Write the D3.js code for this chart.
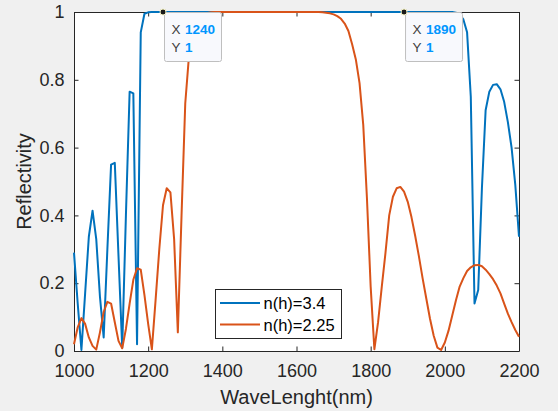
<!DOCTYPE html>
<html>
<head>
<meta charset="utf-8">
<script src="https://cdn.jsdelivr.net/npm/d3@7"></script>
<style>
  body { margin: 0; background: #f0f0f0; }
  text { font-family: "Liberation Sans", Arial, sans-serif; }
</style>
</head>
<body>
<div id="vis-container"></div>
<script>
// wavelength samples (nm)
const wavelength = [
  1000, 1010, 1020, 1030, 1040, 1050, 1060, 1070, 1080, 1090,
  1100, 1110, 1120, 1130, 1140, 1150, 1160, 1170, 1180, 1190,
  1200, 1210, 1220, 1230, 1240, 1250, 1260, 1270, 1280, 1290,
  1300, 1310, 1320, 1330, 1340, 1350, 1360, 1370, 1380, 1390,
  1400, 1410, 1420, 1430, 1440, 1450, 1460, 1470, 1480, 1490,
  1500, 1510, 1520, 1530, 1540, 1550, 1560, 1570, 1580, 1590,
  1600, 1610, 1620, 1630, 1640, 1650, 1660, 1670, 1680, 1690,
  1700, 1710, 1720, 1730, 1740, 1750, 1760, 1770, 1780, 1790,
  1800, 1810, 1820, 1830, 1840, 1850, 1860, 1870, 1880, 1890,
  1900, 1910, 1920, 1930, 1940, 1950, 1960, 1970, 1980, 1990,
  2000, 2010, 2020, 2030, 2040, 2050, 2060, 2070, 2080, 2090,
  2100, 2110, 2120, 2130, 2140, 2150, 2160, 2170, 2180, 2190,
  2200
];

// n(h)=3.4
const reflect34 = [
  0.29, 0.14, 0.003, 0.17, 0.337, 0.414, 0.33, 0.16, 0.04, 0.3,
  0.55, 0.555, 0.28, 0.01, 0.4, 0.765, 0.76, 0.02, 0.94, 0.995,
  0.999, 1, 1, 1, 1, 1, 1, 1, 1, 1,
  1, 1, 1, 1, 1, 1, 1, 1, 1, 1,
  1, 1, 1, 1, 1, 1, 1, 1, 1, 1,
  1, 1, 1, 1, 1, 1, 1, 1, 1, 1,
  1, 1, 1, 1, 1, 1, 1, 1, 1, 1,
  1, 1, 1, 1, 1, 1, 1, 1, 1, 1,
  1, 1, 1, 1, 1, 1, 1, 1, 1, 1,
  1, 1, 1, 1, 1, 1, 1, 1, 1, 1,
  1, 1, 1, 0.998, 0.993, 0.978, 0.94, 0.75, 0.14, 0.18,
  0.48, 0.71, 0.765, 0.785, 0.787, 0.772, 0.735, 0.675, 0.6, 0.49,
  0.337
];

// n(h)=2.25
const reflect225 = [
  0.02, 0.07, 0.097, 0.08, 0.04, 0.015, 0.004, 0.055, 0.115, 0.145,
  0.14, 0.085, 0.03, 0.008, 0.065, 0.14, 0.21, 0.244, 0.24, 0.165,
  0.08, 0.005, 0.15, 0.3, 0.43, 0.48, 0.468, 0.33, 0.055, 0.4,
  0.73, 0.87, 0.94, 0.97, 0.985, 0.993, 0.997, 0.999, 1, 1,
  1, 1, 1, 1, 1, 1, 1, 1, 1, 1,
  1, 1, 1, 1, 1, 1, 1, 1, 1, 1,
  1, 1, 1, 1, 1, 1, 1, 0.999, 0.998, 0.996,
  0.993, 0.988, 0.98, 0.966, 0.944, 0.905, 0.86, 0.79, 0.667, 0.45,
  0.19, 0.005, 0.085, 0.19, 0.29, 0.4, 0.455, 0.48, 0.484, 0.47,
  0.44, 0.395, 0.34, 0.28, 0.215, 0.155, 0.095, 0.045, 0.01, 0.003,
  0.025, 0.06, 0.105, 0.15, 0.19, 0.215, 0.236, 0.247, 0.253, 0.254,
  0.25, 0.24, 0.227, 0.212, 0.193, 0.17, 0.14, 0.11, 0.085, 0.062,
  0.042
];

const seriesNames = ["n(h)=3.4", "n(h)=2.25"];
const seriesColors = ["#0072BD", "#D95319"];
const xTicks = [1000, 1200, 1400, 1600, 1800, 2000, 2200];
const yTicks = [0, 0.2, 0.4, 0.6, 0.8, 1];
const tipX = [1240, 1890];
const tipY = [1, 1];

const width = 558;
const height = 411;
const margin = { left: 74, right: 39, top: 12, bottom: 60 };
const axisColor = "#262626";

const svg = d3.select("#vis-container")
  .append("svg")
  .attr("width", width)
  .attr("height", height)
  .style("display", "block")
  .style("background", "#f0f0f0");

const xScale = d3.scaleLinear()
  .domain([1000, 2200])
  .range([margin.left, width - margin.right]);

const yScale = d3.scaleLinear()
  .domain([0, 1])
  .range([height - margin.bottom, margin.top]);

// white axes background
svg.append("rect")
  .attr("x", xScale(1000))
  .attr("y", yScale(1))
  .attr("width", xScale(2200) - xScale(1000))
  .attr("height", yScale(0) - yScale(1))
  .attr("fill", "white");

// axes (ticks pointing inward, box on)
function styleAxis(g) {
  g.select(".domain").attr("stroke", axisColor).attr("stroke-width", 1);
  g.selectAll(".tick line").attr("stroke", axisColor);
  g.selectAll(".tick text").attr("fill", axisColor).attr("font-size", "18px");
}

svg.append("g")
  .attr("transform", `translate(0,${yScale(0)})`)
  .call(d3.axisBottom(xScale).tickValues(xTicks).tickSize(-4.5).tickSizeOuter(0).tickPadding(13)
    .tickFormat(d3.format("d")))
  .call(styleAxis);

svg.append("g")
  .attr("transform", `translate(0,${yScale(1)})`)
  .call(d3.axisTop(xScale).tickValues(xTicks).tickSize(-4.5).tickSizeOuter(0).tickFormat(""))
  .call(styleAxis);

svg.append("g")
  .attr("transform", `translate(${xScale(1000)},0)`)
  .call(d3.axisLeft(yScale).tickValues(yTicks).tickSize(-4.5).tickSizeOuter(0).tickPadding(9.5)
    .tickFormat(d => d === 0 || d === 1 ? d3.format("d")(d) : d3.format(".1f")(d)))
  .call(styleAxis);

svg.append("g")
  .attr("transform", `translate(${xScale(2200)},0)`)
  .call(d3.axisRight(yScale).tickValues(yTicks).tickSize(-4.5).tickSizeOuter(0).tickFormat(""))
  .call(styleAxis);

// axis labels
svg.append("text")
  .attr("x", (xScale(1000) + xScale(2200)) / 2)
  .attr("y", 404)
  .attr("text-anchor", "middle")
  .attr("font-size", "20px")
  .attr("fill", axisColor)
  .text("WaveLenght(nm)");

svg.append("text")
  .attr("transform", `translate(31,${(yScale(0) + yScale(1)) / 2}) rotate(-90)`)
  .attr("text-anchor", "middle")
  .attr("font-size", "20px")
  .attr("fill", axisColor)
  .text("Reflectivity");

// lines
const line = d3.line()
  .x((d, i) => xScale(wavelength[i]))
  .y(d => yScale(d));

[reflect34, reflect225].forEach((s, k) => {
  svg.append("path")
    .datum(s)
    .attr("fill", "none")
    .attr("stroke", seriesColors[k])
    .attr("stroke-width", 2)
    .attr("stroke-linejoin", "round")
    .attr("d", line);
});

// legend
const legend = svg.append("g").attr("transform", "translate(215.5,289.5)");
legend.append("rect")
  .attr("width", 126)
  .attr("height", 49)
  .attr("fill", "white")
  .attr("stroke", axisColor)
  .attr("stroke-width", 1);

seriesNames.forEach((name, k) => {
  const yy = 13.5 + k * 21.5;
  legend.append("line")
    .attr("x1", 4.5).attr("x2", 44.5)
    .attr("y1", yy).attr("y2", yy)
    .attr("stroke", seriesColors[k])
    .attr("stroke-width", 2);
  legend.append("text")
    .attr("x", 48)
    .attr("y", yy + 6)
    .attr("font-size", "16.5px")
    .attr("fill", "#000")
    .text(name);
});

// data tips
tipX.forEach((xv, k) => {
  const px = xScale(xv);
  const py = yScale(tipY[k]);
  const tip = svg.append("g");
  tip.append("rect")
    .attr("x", px + 1.5)
    .attr("y", py + 0.5)
    .attr("width", 57)
    .attr("height", 49)
    .attr("rx", 2)
    .attr("fill", "#f8f9fd")
    .attr("stroke", "#bfbfbf")
    .attr("stroke-width", 1);
  [["X", xv, 21.5], ["Y", tipY[k], 40]].forEach(([lab, val, dy]) => {
    tip.append("text")
      .attr("x", px + 8.5)
      .attr("y", py + dy)
      .attr("font-size", "13.5px")
      .attr("fill", "#404040")
      .text(lab);
    tip.append("text")
      .attr("x", px + 22)
      .attr("y", py + dy)
      .attr("font-size", "13.5px")
      .attr("font-weight", "bold")
      .attr("fill", "#0096ff")
      .text(val);
  });
  tip.append("circle")
    .attr("cx", px)
    .attr("cy", py)
    .attr("r", 3)
    .attr("fill", "#1a1a1a")
    .attr("stroke", "#f4f2c4")
    .attr("stroke-width", 1);
});
</script>
</body>
</html>
